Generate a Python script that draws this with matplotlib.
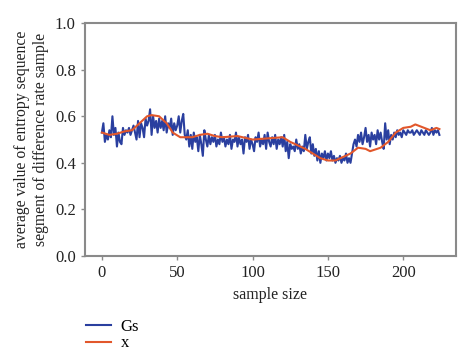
import numpy as np
import matplotlib
matplotlib.use("Agg")
import matplotlib.pyplot as plt

plt.rcParams['font.family'] = ['Liberation Serif', 'DejaVu Serif']

# Gs series, one value per sample (0..224)
gs_values = [
    0.53, 0.57, 0.49, 0.52, 0.50, 0.54, 0.51, 0.60, 0.52, 0.55, 0.47, 0.53, 0.49, 0.48, 0.55,
    0.52, 0.54, 0.53, 0.55, 0.52, 0.54, 0.56, 0.53, 0.50, 0.58, 0.51, 0.57, 0.55, 0.51, 0.59,
    0.56, 0.58, 0.63, 0.52, 0.60, 0.55, 0.58, 0.53, 0.59, 0.55, 0.58, 0.54, 0.60, 0.53, 0.57,
    0.55, 0.59, 0.52, 0.57, 0.54, 0.56, 0.60, 0.53, 0.58, 0.61, 0.52, 0.50, 0.54, 0.47, 0.52,
    0.46, 0.53, 0.49, 0.51, 0.45, 0.52, 0.48, 0.43, 0.54, 0.50, 0.47, 0.52, 0.48, 0.51, 0.49,
    0.52, 0.47, 0.50, 0.48, 0.53, 0.49, 0.51, 0.47, 0.50, 0.48, 0.52, 0.46, 0.50, 0.49, 0.53,
    0.47, 0.51, 0.48, 0.50, 0.44, 0.51, 0.49, 0.52, 0.46, 0.50, 0.48, 0.45, 0.51, 0.49, 0.53,
    0.47, 0.50, 0.48, 0.52, 0.46, 0.53, 0.49, 0.47, 0.51, 0.48, 0.52, 0.46, 0.50, 0.48, 0.51,
    0.47, 0.52, 0.45, 0.49, 0.42, 0.48, 0.46, 0.47, 0.45, 0.50, 0.46, 0.48, 0.44, 0.47, 0.45,
    0.52, 0.46, 0.49, 0.51, 0.44, 0.48, 0.43, 0.46, 0.41, 0.45, 0.40, 0.44, 0.42, 0.45, 0.41,
    0.44, 0.42, 0.45, 0.41, 0.43, 0.40, 0.42, 0.41, 0.43, 0.40, 0.42, 0.41, 0.44, 0.40, 0.42,
    0.40, 0.44, 0.48, 0.50, 0.47, 0.52, 0.49, 0.53, 0.48, 0.51, 0.55, 0.49, 0.52, 0.47, 0.53,
    0.50, 0.52, 0.48, 0.54, 0.50, 0.53, 0.49, 0.46, 0.57, 0.50, 0.54, 0.48, 0.52, 0.50, 0.53,
    0.51, 0.54, 0.52, 0.53, 0.51, 0.54, 0.53, 0.52, 0.54, 0.53, 0.53, 0.54, 0.52, 0.53, 0.54,
    0.53, 0.52, 0.54, 0.53, 0.52, 0.54, 0.53, 0.52, 0.53, 0.55, 0.52, 0.54, 0.53, 0.54, 0.52,
]
gs_x = list(range(len(gs_values)))

# smooth x series, read at selected samples
x_samples = [0, 5, 10, 15, 20, 25, 30, 33, 38, 43, 47, 52, 60, 65, 70, 75, 80, 90, 100,
             110, 120, 125, 130, 135, 140, 145, 150, 155, 160, 165, 170, 175, 178, 185,
             190, 195, 200, 205, 208, 212, 218, 222, 224]
x_values = [0.53, 0.52, 0.525, 0.535, 0.54, 0.57, 0.60, 0.605, 0.60, 0.57, 0.53, 0.51, 0.51,
            0.52, 0.525, 0.515, 0.51, 0.515, 0.50, 0.505, 0.51, 0.49, 0.475, 0.46, 0.44,
            0.42, 0.41, 0.41, 0.425, 0.44, 0.465, 0.46, 0.45, 0.465, 0.49, 0.53, 0.55,
            0.555, 0.565, 0.555, 0.54, 0.55, 0.545]

y_ticks = [0.0, 0.2, 0.4, 0.6, 0.8, 1.0]
x_ticks = [0, 50, 100, 150, 200]

fig = plt.figure(figsize=(4.74, 3.62), dpi=100)
ax = fig.add_axes([0.179, 0.293, 0.783, 0.643])

ax.plot(gs_x, gs_values, color='#2a3f9f', lw=1.5, label='Gs')
ax.plot(x_samples, x_values, color='#e2572b', lw=1.5, label='x')

ax.set_xlim(-11.3, 235)
ax.set_ylim(0, 1.0)
ax.set_yticks(y_ticks)
ax.set_yticklabels(['%.1f' % t for t in y_ticks])
ax.set_xticks(x_ticks)

for s in ax.spines.values():
    s.set_color('#8a8a8a')
    s.set_linewidth(1.5)
ax.tick_params(colors='#8a8a8a', labelcolor='#222222', labelsize=12, length=3, width=1)

ax.set_xlabel('sample size', fontsize=11.5, color='#222222', labelpad=4)
ax.set_ylabel('average value of entropy sequence\nsegment of difference rate sample',
              fontsize=11.3, color='#222222', labelpad=4, linespacing=1.3)

fig.legend(loc='upper left', bbox_to_anchor=(0.149, 0.160), frameon=False,
           fontsize=12, handlelength=1.5, labelspacing=0.02, handletextpad=0.6)

fig.savefig('out.png', dpi=100)
